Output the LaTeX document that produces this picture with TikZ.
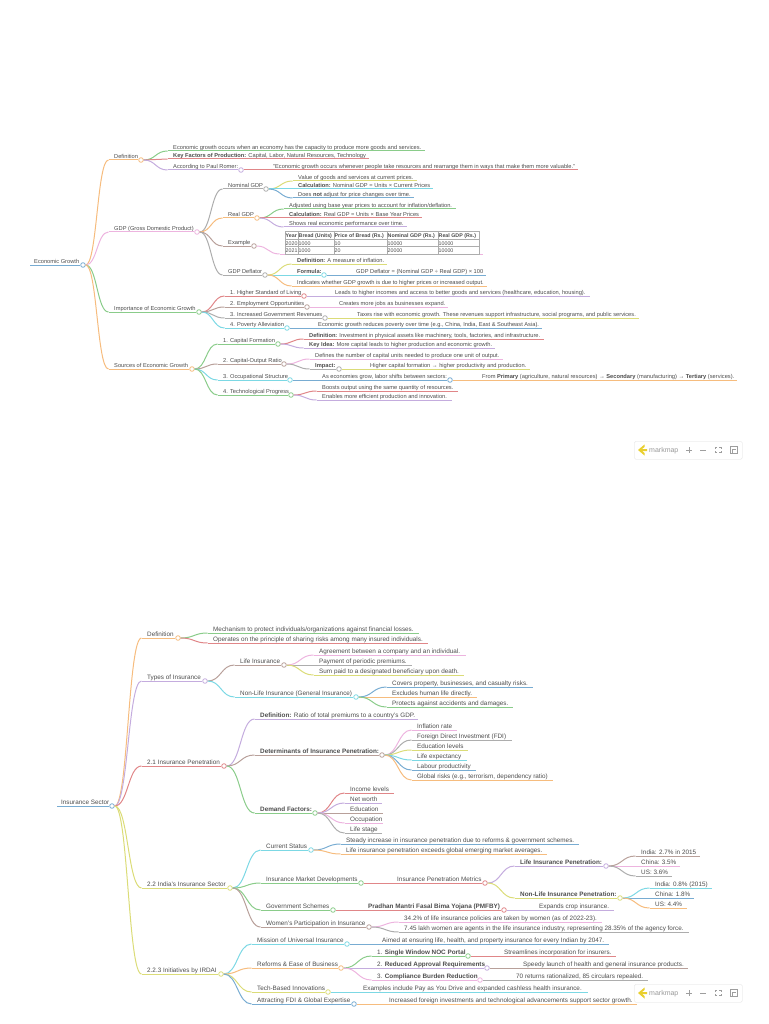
\documentclass[tikz,border=0pt]{standalone}
\usepackage{xcolor}
\usepackage{fontspec}
\setmainfont{Liberation Sans}
\usetikzlibrary{calc}

\definecolor{mblue}{HTML}{78ACD2}
\definecolor{morange}{HTML}{F6BC7E}
\definecolor{mgreen}{HTML}{8ACC8A}
\definecolor{mred}{HTML}{E08688}
\definecolor{mpurple}{HTML}{C4ACDE}
\definecolor{mbrown}{HTML}{B8A09A}
\definecolor{mpink}{HTML}{EDB4DF}
\definecolor{mgray}{HTML}{ADADAD}
\definecolor{molive}{HTML}{DBDC78}
\definecolor{mcyan}{HTML}{7CD8E4}
\definecolor{mlogo}{HTML}{E9CF2E}

\def\mmsize{5.7}

\tikzset{
  mmtext/.style={font=\fontsize{\mmsize}{7}\selectfont,text=black!70,inner sep=0pt,anchor=base west},
  mmline/.style={line width=1pt},
  mmdot/.style={circle,draw,fill=white,line width=0.8pt,minimum size=4.6pt,inner sep=0pt},
  mmcell/.style={font=\fontsize{5.3}{6}\selectfont,text=black!70,inner sep=0pt,anchor=base west},
  mmbar/.style={draw=black!7,fill=white,rounded corners=1.5pt,line width=0.6pt},
  mmicon/.style={draw=black!38,line width=0.9pt}
}

% the s-curve between a knot and the start of a line
\newcommand{\mmcurve}[3]{
  \draw[mmline,#3] let \p1=(#1.east),\p2=(#2) in (#1.east) .. controls ({0.5*\x1+0.5*\x2},\y1) and ({0.5*\x1+0.5*\x2},\y2) .. (#2);
}
% parent, name, x of text, x of line end, y, colour, text
\newcommand{\mmtip}[7]{
  \coordinate (#2s) at (#3-5.5,#5);
  \coordinate (#2e) at (#4,#5);
  \node[mmtext] (#2) at (#3,#5-1.9) {#7};
  \draw[mmline,#6] (#2s) -- (#2e);
  \mmcurve{#1}{#2s}{#6}
}
% the same, with a knot at the end of the line
\newcommand{\mmknot}[7]{
  \coordinate (#2s) at (#3-5.5,#5);
  \node[mmdot,draw=#6] (#2k) at (#4,#5) {};
  \node[mmtext] (#2) at (#3,#5-1.9) {#7};
  \draw[mmline,#6] (#2s) -- (#2k);
  \mmcurve{#1}{#2s}{#6}
}
% the control box, top left corner given
\newcommand{\mmbox}[3]{
  \node[mmbar,minimum width=108pt,minimum height=18pt,anchor=north west] (#1) at (#2,#3) {};
  \fill[mlogo] (#2+4,#3+9) -- (#2+10.5,#3+3.5) -- (#2+10.5,#3+6) -- (#2+8,#3+8) -- (#2+13,#3+8) -- (#2+13,#3+10) -- (#2+8,#3+10) -- (#2+10.5,#3+12) -- (#2+10.5,#3+14.5) -- cycle;
  \node[font=\rmfamily\fontsize{7}{8}\selectfont,text=black!40,inner sep=0pt,anchor=base west] (#1t) at (#2+15,#3+11.5) {markmap};
  \draw[mmicon] (#2+55,#3+6) -- (#2+55,#3+12) (#2+52,#3+9) -- (#2+58,#3+9);
  \draw[mmicon] (#2+66,#3+9) -- (#2+72,#3+9);
  \draw[mmicon] (#2+81,#3+8) -- (#2+81,#3+6.5) -- (#2+83,#3+6.5) (#2+85,#3+6.5) -- (#2+87,#3+6.5) -- (#2+87,#3+8) (#2+87,#3+10) -- (#2+87,#3+11.5) -- (#2+85,#3+11.5) (#2+83,#3+11.5) -- (#2+81,#3+11.5) -- (#2+81,#3+10);
  \draw[mmicon] (#2+96,#3+5.5) rectangle (#2+103,#3+12.5) (#2+98,#3+12.5) -- (#2+98,#3+8.5) -- (#2+102,#3+8.5);
}

\begin{document}
\begin{tikzpicture}[x=1pt,y=-1pt]
  \useasboundingbox (0,0) rectangle (768,1024);

  % economic growth
  \coordinate (egs) at (30,265);
  \node[mmdot,draw=mblue] (egk) at (83,265) {};
  \node[mmtext] (eg) at (34,265-1.9) {Economic Growth};
  \draw[mmline,mblue] (egs) -- (egk);

  \mmknot{egk}{def}{114}{141}{160}{morange}{Definition}
  \mmtip{defk}{defa}{173}{425}{151}{mgreen}{Economic growth occurs when an economy has the capacity to produce more goods and services.}
  \mmtip{defk}{defb}{173}{369}{159}{mred}{\textbf{Key Factors of Production:} Capital, Labor, Natural Resources, Technology}
  \mmknot{defk}{defc}{173}{241}{170}{mpurple}{According to Paul Romer:}
  \mmtip{defck}{defd}{273}{578}{170}{mred}{"Economic growth occurs whenever people take resources and rearrange them in ways that make them more valuable."}

  \mmknot{egk}{gdp}{114}{197}{232}{mpink}{GDP (Gross Domestic Product)}
  \mmknot{gdpk}{nom}{228}{266}{189}{mgray}{Nominal GDP}
  \mmtip{nomk}{noma}{298}{417}{181}{molive}{Value of goods and services at current prices.}
  \mmtip{nomk}{nomb}{298}{433}{189}{mcyan}{\textbf{Calculation:} Nominal GDP = Units × Current Prices}
  \mmtip{nomk}{nomc}{298}{414}{198}{mblue}{Does \textbf{not} adjust for price changes over time.}
  \mmknot{gdpk}{real}{228}{257}{218}{morange}{Real GDP}
  \mmtip{realk}{reala}{289}{456}{209}{mgreen}{Adjusted using base year prices to account for inflation/deflation.}
  \mmtip{realk}{realb}{289}{422}{218}{mred}{\textbf{Calculation:} Real GDP = Units × Base Year Prices}
  \mmtip{realk}{realc}{289}{407}{227}{mpurple}{Shows real economic performance over time.}
  \mmknot{gdpk}{exa}{228}{254}{246}{mbrown}{Example}
  \mmtip{exak}{tab}{285}{483}{254}{mpink}{}
  \draw[black!32,line width=0.6pt] (285,231) rectangle (479,254) (285,239) -- (479,239) (285,246) -- (479,246);
  \foreach \x in {298,334,387,438}
    \draw[black!32,line width=0.6pt] (\x,231) -- (\x,254);
  \foreach \x/\a/\b/\c in {285.5/Year/2020/2021,298.5/Bread (Units)/1000/1000,334.5/Price of Bread (Rs.)/10/20,387.5/Nominal GDP (Rs.)/10000/20000,438.5/Real GDP (Rs.)/10000/10000}{
    \node[mmcell] at (\x,237.5) {\textbf{\a}};
    \node[mmcell] at (\x,245) {\b};
    \node[mmcell] at (\x,252.5) {\c};
  }
  \mmknot{gdpk}{defl}{228}{265}{275}{mgray}{GDP Deflator}
  \mmtip{deflk}{defla}{297}{387}{264}{molive}{\textbf{Definition:} A measure of inflation.}
  \mmknot{deflk}{deflb}{297}{324}{275}{mcyan}{\textbf{Formula:}}
  \mmtip{deflbk}{deflc}{356}{486}{275}{mblue}{GDP Deflator = (Nominal GDP ÷ Real GDP) × 100}
  \mmtip{deflk}{defld}{297}{487}{286}{morange}{Indicates whether GDP growth is due to higher prices or increased output.}

  \mmknot{egk}{imp}{114}{199}{312}{mgreen}{Importance of Economic Growth}
  \mmknot{impk}{impa}{230}{304}{296}{mred}{1. Higher Standard of Living}
  \mmtip{impak}{impaa}{335}{590}{296}{mpurple}{Leads to higher incomes and access to better goods and services (healthcare, education, housing).}
  \mmknot{impk}{impb}{230}{307}{307}{mbrown}{2. Employment Opportunities}
  \mmtip{impbk}{impba}{339}{448}{307}{mpink}{Creates more jobs as businesses expand.}
  \mmknot{impk}{impc}{230}{325}{318}{mgray}{3. Increased Government Revenues}
  \mmtip{impck}{impca}{357}{639}{318}{molive}{Taxes rise with economic growth. These revenues support infrastructure, social programs, and public services.}
  \mmknot{impk}{impd}{230}{287}{328}{mcyan}{4. Poverty Alleviation}
  \mmtip{impdk}{impda}{318}{542}{328}{mblue}{Economic growth reduces poverty over time (e.g., China, India, East \& Southeast Asia).}

  \mmknot{egk}{src}{114}{192}{369}{morange}{Sources of Economic Growth}
  \mmknot{srck}{srca}{223}{278}{344}{mgreen}{1. Capital Formation}
  \mmtip{srcak}{srcaa}{309}{544}{339}{mred}{\textbf{Definition:} Investment in physical assets like machinery, tools, factories, and infrastructure.}
  \mmtip{srcak}{srcab}{309}{495}{348}{mpurple}{\textbf{Key Idea:} More capital leads to higher production and economic growth.}
  \mmknot{srck}{srcb}{223}{284}{364}{mbrown}{2. Capital-Output Ratio}
  \mmtip{srcbk}{srcba}{315}{503}{359}{mpink}{Defines the number of capital units needed to produce one unit of output.}
  \mmknot{srcbk}{srcbb}{315}{339}{369}{mgray}{\textbf{Impact:}}
  \mmtip{srcbbk}{srcbc}{370}{530}{369}{molive}{Higher capital formation → higher productivity and production.}
  \mmknot{srck}{srcc}{223}{290}{380}{mcyan}{3. Occupational Structure}
  \mmknot{srcck}{srcca}{322}{450}{380}{mblue}{As economies grow, labor shifts between sectors:}
  \mmtip{srccak}{srccb}{482}{737}{380}{morange}{From \textbf{Primary} (agriculture, natural resources) → \textbf{Secondary} (manufacturing) → \textbf{Tertiary} (services).}
  \mmknot{srck}{srcd}{223}{291}{395}{mgreen}{4. Technological Progress}
  \mmtip{srcdk}{srcda}{322}{458}{391}{mred}{Boosts output using the same quantity of resources.}
  \mmtip{srcdk}{srcdb}{322}{452}{400}{mpurple}{Enables more efficient production and innovation.}

  \mmbox{barone}{634}{441}

  % insurance sector
  \def\mmsize{6.35}
  \coordinate (iss) at (57,806);
  \node[mmdot,draw=mblue] (isk) at (112,806) {};
  \node[mmtext] (is) at (61,806-1.9) {Insurance Sector};
  \draw[mmline,mblue] (iss) -- (isk);

  \mmknot{isk}{idef}{147}{178}{638}{morange}{Definition}
  \mmtip{idefk}{idefa}{213}{419}{633}{mgreen}{Mechanism to protect individuals/organizations against financial losses.}
  \mmtip{idefk}{idefb}{213}{428}{643}{mred}{Operates on the principle of sharing risks among many insured individuals.}

  \mmknot{isk}{typ}{147}{205}{681}{mpurple}{Types of Insurance}
  \mmknot{typk}{life}{240}{284}{665}{mbrown}{Life Insurance}
  \mmtip{lifek}{lifea}{319}{466}{655}{mpink}{Agreement between a company and an individual.}
  \mmtip{lifek}{lifeb}{319}{412}{665}{mgray}{Payment of periodic premiums.}
  \mmtip{lifek}{lifec}{319}{464}{675}{molive}{Sum paid to a designated beneficiary upon death.}
  \mmknot{typk}{non}{240}{356}{697}{mcyan}{Non-Life Insurance (General Insurance)}
  \mmtip{nonk}{nona}{392}{533}{687}{mblue}{Covers property, businesses, and casualty risks.}
  \mmtip{nonk}{nonb}{392}{477}{697}{morange}{Excludes human life directly.}
  \mmtip{nonk}{nonc}{392}{513}{707}{mgreen}{Protects against accidents and damages.}

  \mmknot{isk}{pen}{147}{224}{766}{mred}{2.1 Insurance Penetration}
  \mmtip{penk}{pena}{260}{418}{719}{mpurple}{\textbf{Definition:} Ratio of total premiums to a country's GDP.}
  \mmknot{penk}{det}{260}{382}{755}{mbrown}{\textbf{Determinants of Insurance Penetration:}}
  \mmtip{detk}{deta}{417}{457}{730}{mpink}{Inflation rate}
  \mmtip{detk}{detb}{417}{512}{740}{mgray}{Foreign Direct Investment (FDI)}
  \mmtip{detk}{detc}{417}{468}{750}{molive}{Education levels}
  \mmtip{detk}{detd}{417}{467}{760}{mcyan}{Life expectancy}
  \mmtip{detk}{dete}{417}{476}{770}{mblue}{Labour productivity}
  \mmtip{detk}{detf}{417}{553}{780}{morange}{Global risks (e.g., terrorism, dependency ratio)}
  \mmknot{penk}{dem}{260}{315}{813}{mgreen}{\textbf{Demand Factors:}}
  \mmtip{demk}{dema}{350}{394}{793}{mred}{Income levels}
  \mmtip{demk}{demb}{350}{382}{803}{mpurple}{Net worth}
  \mmtip{demk}{demc}{350}{383}{813}{mbrown}{Education}
  \mmtip{demk}{demd}{350}{383}{823}{mpink}{Occupation}
  \mmtip{demk}{deme}{350}{382}{833}{mgray}{Life stage}

  \mmknot{isk}{ind}{147}{230}{888}{molive}{2.2 India's Insurance Sector}
  \mmknot{indk}{cur}{266}{311}{850}{mcyan}{Current Status}
  \mmtip{curk}{cura}{346}{579}{844}{mblue}{Steady increase in insurance penetration due to reforms \& government schemes.}
  \mmtip{curk}{curb}{346}{547}{854}{morange}{Life insurance penetration exceeds global emerging market averages.}
  \mmknot{indk}{mkt}{266}{361}{883}{mgreen}{Insurance Market Developments}
  \mmknot{mktk}{met}{397}{485}{883}{mred}{Insurance Penetration Metrics}
  \mmknot{metk}{lip}{520}{606}{866}{mpurple}{\textbf{Life Insurance Penetration:}}
  \mmtip{lipk}{lipa}{641}{700}{856}{mbrown}{India: 2.7\% in 2015}
  \mmtip{lipk}{lipb}{641}{680}{866}{mpink}{China: 3.5\%}
  \mmtip{lipk}{lipc}{641}{672}{876}{mgray}{US: 3.6\%}
  \mmknot{metk}{nlp}{520}{620}{898}{molive}{\textbf{Non-Life Insurance Penetration:}}
  \mmtip{nlpk}{nlpa}{655}{712}{888}{mcyan}{India: 0.8\% (2015)}
  \mmtip{nlpk}{nlpb}{655}{694}{898}{mblue}{China: 1.8\%}
  \mmtip{nlpk}{nlpc}{655}{687}{908}{morange}{US: 4.4\%}
  \mmknot{indk}{gov}{266}{333}{910}{mgreen}{Government Schemes}
  \mmknot{govk}{pmf}{368}{504}{910}{mred}{\textbf{Pradhan Mantri Fasal Bima Yojana (PMFBY)}}
  \mmtip{pmfk}{pmfa}{539}{614}{910}{mpurple}{Expands crop insurance.}
  \mmknot{indk}{wom}{266}{369}{927}{mbrown}{Women's Participation in Insurance}
  \mmtip{womk}{woma}{404}{602}{922}{mpink}{34.2\% of life insurance policies are taken by women (as of 2022-23).}
  \mmtip{womk}{womb}{404}{689}{932}{mgray}{7.45 lakh women are agents in the life insurance industry, representing 28.35\% of the agency force.}

  \mmknot{isk}{ini}{147}{221}{974}{molive}{2.2.3 Initiatives by IRDAI}
  \mmknot{inik}{mis}{257}{347}{944}{mcyan}{Mission of Universal Insurance}
  \mmtip{misk}{misa}{382}{609}{944}{mblue}{Aimed at ensuring life, health, and property insurance for every Indian by 2047.}
  \mmknot{inik}{ref}{257}{341}{968}{morange}{Reforms \& Ease of Business}
  \mmknot{refk}{refa}{377}{468}{956}{mgreen}{1. \textbf{Single Window NOC Portal}}
  \mmtip{refak}{refaa}{504}{616}{956}{mred}{Streamlines incorporation for insurers.}
  \mmknot{refk}{refb}{377}{487}{968}{mpurple}{2. \textbf{Reduced Approval Requirements}}
  \mmtip{refbk}{refba}{523}{688}{968}{mbrown}{Speedy launch of health and general insurance products.}
  \mmknot{refk}{refc}{377}{480}{980}{mpink}{3. \textbf{Compliance Burden Reduction}}
  \mmtip{refck}{refca}{516}{648}{980}{mgray}{70 returns rationalized, 85 circulars repealed.}
  \mmknot{inik}{tec}{257}{328}{992}{molive}{Tech-Based Innovations}
  \mmtip{teck}{teca}{363}{588}{992}{mcyan}{Examples include Pay as You Drive and expanded cashless health insurance.}
  \mmknot{inik}{fdi}{257}{354}{1004}{mblue}{Attracting FDI \& Global Expertise}
  \mmtip{fdik}{fdia}{389}{637}{1004}{morange}{Increased foreign investments and technological advancements support sector growth.}

  \mmbox{bartwo}{634}{984}
\end{tikzpicture}
\end{document}
